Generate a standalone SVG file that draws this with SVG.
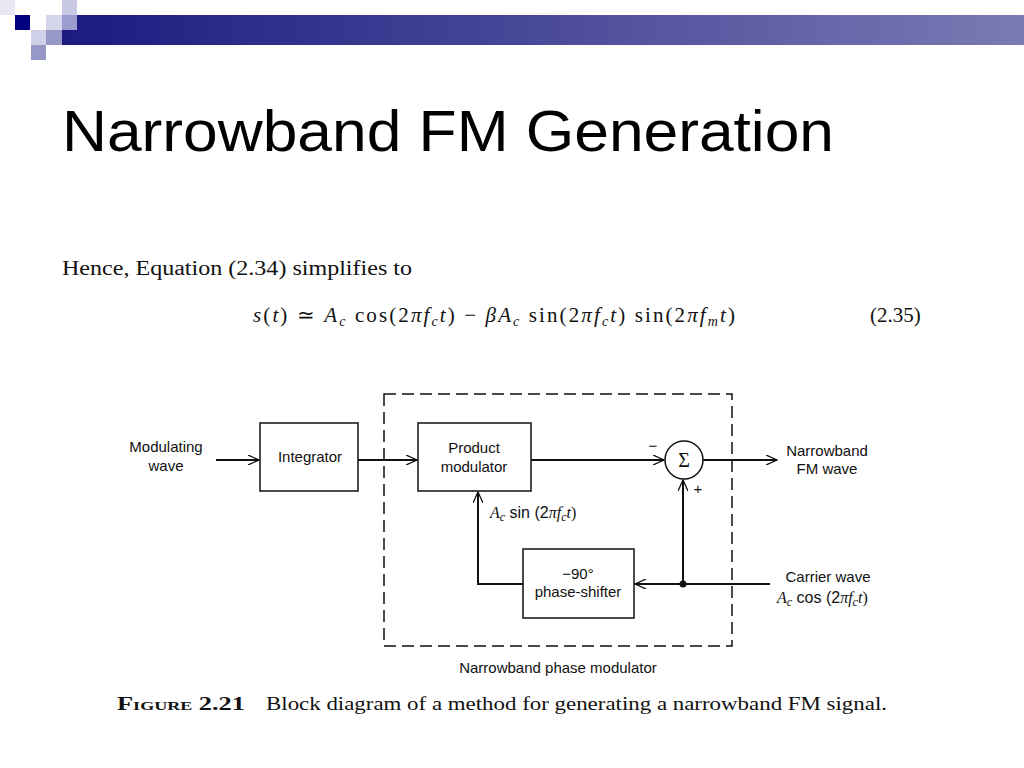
<svg xmlns="http://www.w3.org/2000/svg" width="1024" height="768" viewBox="0 0 1024 768">
<defs>
<linearGradient id="bar" x1="0" x2="1" y1="0" y2="0"><stop offset="0" stop-color="#1a1a80"/><stop offset="1" stop-color="#7a7ab4"/></linearGradient>
<marker id="ar" viewBox="0 0 12 10" refX="11" refY="5" markerWidth="12" markerHeight="10" markerUnits="userSpaceOnUse" orient="auto"><path d="M0,0 L11,5 L0,10" fill="none" stroke="#111" stroke-width="1.3"/></marker>
</defs>
<style>
.b{fill:#fff;stroke:#111;stroke-width:1.5}
.l{fill:none;stroke:#111;stroke-width:2}
.t{font-family:"Liberation Sans",Arial,sans-serif;font-size:15px;fill:#111;text-anchor:middle}
.s{font-family:"Liberation Serif","Times New Roman",serif;fill:#111}
</style>
<rect width="1024" height="768" fill="#fff"/>
<g id="header">
<rect x="0" y="0" width="15" height="15" fill="#e8e8f4"/>
<rect x="62" y="0" width="15" height="15" fill="#c8c8e4"/>
<rect x="15" y="15" width="15" height="15" fill="#000080"/>
<rect x="46" y="15" width="16" height="15" fill="#d4d4ea"/>
<rect x="31" y="30" width="15" height="15" fill="#d0d0e8"/>
<rect x="46" y="30" width="16" height="15" fill="#9898c8"/>
<rect x="31" y="45" width="15" height="15" fill="#9898c8"/>
<rect x="62" y="15" width="962" height="30" fill="url(#bar)"/>
<rect x="62" y="15" width="15" height="15" fill="#9c9cd0"/>
</g>
<text x="62" y="151" font-family="'Liberation Sans',Arial,sans-serif" font-size="58" fill="#000" textLength="772" lengthAdjust="spacingAndGlyphs">Narrowband FM Generation</text>
<text x="62" y="275" class="s" font-size="20" textLength="350" lengthAdjust="spacingAndGlyphs">Hence, Equation (2.34) simplifies to</text>
<text x="253" y="322" class="s" font-size="21" textLength="482" lengthAdjust="spacing"><tspan font-style="italic">s</tspan>(<tspan font-style="italic">t</tspan>) ≃ <tspan font-style="italic">A<tspan font-size="14" dy="4">c</tspan></tspan><tspan dy="-4"> cos(2</tspan><tspan font-style="italic">πf<tspan font-size="14" dy="4">c</tspan><tspan dy="-4">t</tspan></tspan>) − <tspan font-style="italic">βA<tspan font-size="14" dy="4">c</tspan></tspan><tspan dy="-4"> sin(2</tspan><tspan font-style="italic">πf<tspan font-size="14" dy="4">c</tspan><tspan dy="-4">t</tspan></tspan>) sin(2<tspan font-style="italic">πf<tspan font-size="14" dy="4">m</tspan><tspan dy="-4">t</tspan></tspan>)</text>
<text x="870" y="322" class="s" font-size="21">(2.35)</text>
<rect x="384" y="394" width="348" height="252" fill="none" stroke="#111" stroke-width="1.5" stroke-dasharray="12,6"/>
<g id="integrator"><rect class="b" x="260" y="423" width="98" height="68"/><text class="t" x="310" y="462">Integrator</text></g>
<g id="product"><rect class="b" x="418" y="423" width="113" height="68"/><text class="t" x="474" y="453">Product</text><text class="t" x="474" y="472">modulator</text></g>
<g id="shifter"><rect class="b" x="523" y="549" width="111" height="69"/><text class="t" x="578" y="579">−90°</text><text class="t" x="578" y="597">phase-shifter</text></g>
<g id="sum"><circle cx="684" cy="460" r="19" fill="#fff" stroke="#111" stroke-width="1.5"/><text x="684" y="467" class="s" font-size="20" text-anchor="middle">Σ</text></g>
<g id="connectors">
<path class="l" d="M216,460 H259" marker-end="url(#ar)"/>
<path class="l" d="M358,460 H417" marker-end="url(#ar)"/>
<path class="l" d="M531,460 H664" marker-end="url(#ar)"/>
<path class="l" d="M703,460 H777" marker-end="url(#ar)"/>
<path class="l" d="M770,584 H635" marker-end="url(#ar)"/>
<path class="l" d="M683,584 V480" marker-end="url(#ar)"/>
<path class="l" d="M523,584 H478 V492" marker-end="url(#ar)"/>
<circle cx="683" cy="584" r="3.5" fill="#111"/>
</g>
<text class="t" x="166" y="452">Modulating</text><text class="t" x="166" y="471">wave</text>
<text class="t" x="827" y="456">Narrowband</text><text class="t" x="827" y="474">FM wave</text>
<text class="t" x="828" y="582">Carrier wave</text>
<text x="777" y="603" class="s" font-size="16"><tspan font-style="italic">A<tspan font-size="12" dy="3">c</tspan></tspan><tspan dy="-3" font-family="Liberation Sans"> cos (2</tspan><tspan font-style="italic">πf<tspan font-size="12" dy="3">c</tspan><tspan dy="-3">t</tspan></tspan>)</text>
<text x="490" y="518" class="s" font-size="16"><tspan font-style="italic">A<tspan font-size="12" dy="3">c</tspan></tspan><tspan dy="-3" font-family="Liberation Sans"> sin (2</tspan><tspan font-style="italic">πf<tspan font-size="12" dy="3">c</tspan><tspan dy="-3">t</tspan></tspan>)</text>
<text class="t" x="653" y="451">−</text>
<text class="t" x="698" y="494">+</text>
<text class="t" x="558" y="673">Narrowband phase modulator</text>
<text x="117" y="710" class="s" font-size="19" font-weight="bold" font-variant="small-caps" textLength="128" lengthAdjust="spacingAndGlyphs">Figure 2.21</text>
<text x="266" y="710" class="s" font-size="19" textLength="621" lengthAdjust="spacingAndGlyphs">Block diagram of a method for generating a narrowband FM signal.</text>
</svg>
